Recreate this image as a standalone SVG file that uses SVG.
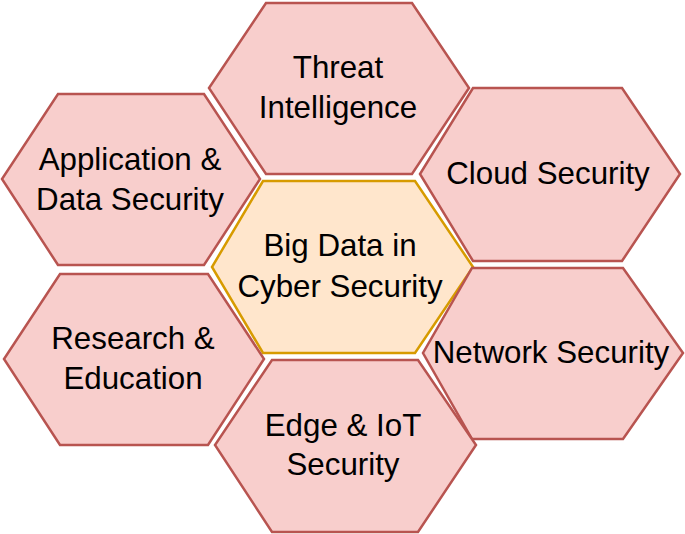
<svg xmlns="http://www.w3.org/2000/svg" width="685" height="534" viewBox="0 0 685 534">
<style>
.hex{fill:#f8cecc;stroke:#b85450;stroke-width:2.5;stroke-linejoin:miter}
.core{fill:#ffe6cc;stroke:#d79b00;stroke-width:2.5}
text{font-family:"Liberation Sans",Arial,Helvetica,sans-serif;font-size:31.3px;fill:#000;text-anchor:middle}
</style>
<rect width="685" height="534" fill="#ffffff"/>
<g id="connectors"></g>
<g id="threat">
<polygon class="hex" points="266,3 412,3 469,88 412,174 266,174 209,88"/>
<text x="338" y="78">Threat</text>
<text x="338" y="118">Intelligence</text>
</g>
<g id="application">
<polygon class="hex" points="58,94 204,94 260,179 204,265 58,265 2,179"/>
<text x="130" y="170">Application &amp;</text>
<text x="130" y="210">Data Security</text>
</g>
<g id="cloud">
<polygon class="hex" points="473,88 622,88 680,174 622,261 473,261 420,174"/>
<text x="548" y="184">Cloud Security</text>
</g>
<g id="center">
<polygon class="core" points="263,181 415,181 473,267 415,353 263,353 212,267"/>
<text x="340" y="256">Big Data in</text>
<text x="340" y="297">Cyber Security</text>
</g>
<g id="research">
<polygon class="hex" points="60,274 208,274 264,359 208,445 60,445 4,359"/>
<text x="133" y="349">Research &amp;</text>
<text x="133" y="389">Education</text>
</g>
<g id="network">
<polygon class="hex" points="472,268 623,268 683,353 623,439 472,439 423,353"/>
<text x="551" y="363">Network Security</text>
</g>
<g id="edge">
<polygon class="hex" points="272,360 418,360 476,445 418,532 272,532 215,445"/>
<text x="343" y="436">Edge &amp; IoT</text>
<text x="343" y="475">Security</text>
</g>
</svg>
